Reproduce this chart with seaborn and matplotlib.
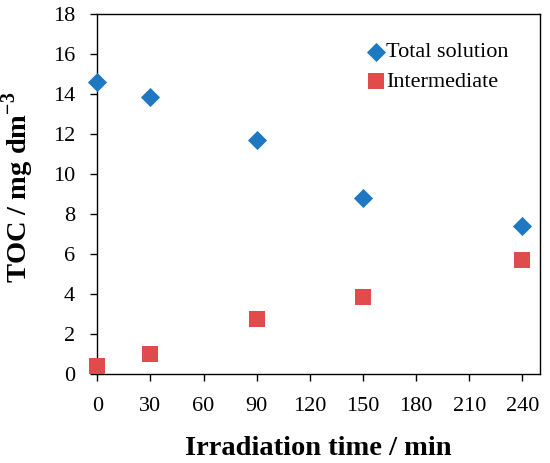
import matplotlib
matplotlib.use("Agg")
import matplotlib.pyplot as plt
import seaborn as sns
import pandas as pd

time_min = [0, 30, 90, 150, 240]
total_solution = [14.62, 13.84, 11.69, 8.81, 7.41]
intermediate = [0.42, 1.02, 2.75, 3.85, 5.71]
xticks = [0, 30, 60, 90, 120, 150, 180, 210, 240]
yticks = [0, 2, 4, 6, 8, 10, 12, 14, 16, 18]

sns.set_theme(style="ticks")
plt.rcParams['font.family'] = ['Liberation Serif', 'DejaVu Serif']
plt.rcParams['mathtext.fontset'] = 'custom'
plt.rcParams['mathtext.rm'] = 'Liberation Serif'
plt.rcParams['mathtext.bf'] = 'Liberation Serif:bold'
plt.rcParams['text.color'] = 'black'
plt.rcParams['axes.labelcolor'] = 'black'

df_t = pd.DataFrame({"time": time_min, "toc": total_solution})
df_i = pd.DataFrame({"time": time_min, "toc": intermediate})

fig = plt.figure(figsize=(5.5, 4.63), dpi=100)
ax = fig.add_axes([0.177, 0.1916, 0.805, 0.7784])

sns.scatterplot(data=df_t, x="time", y="toc", marker="D", s=95, color="#1E78C2",
                linewidth=0, ax=ax, label="Total solution", clip_on=False, zorder=3)
sns.scatterplot(data=df_i, x="time", y="toc", marker="s", s=125, color="#E04B4B",
                linewidth=0, ax=ax, label="Intermediate", clip_on=False, zorder=3)

ax.set_xlim(0, 250)
ax.set_ylim(0, 18)
ax.set_xticks(xticks)
ax.set_yticks(yticks)
ax.tick_params(axis='both', direction='out', length=5, width=1, labelsize=16,
               colors='black', pad=11)
for sp in ax.spines.values():
    sp.set_visible(True)
    sp.set_color('black')
    sp.set_linewidth(1)

ax.set_xlabel("Irradiation time / min", fontsize=20.5, fontweight='bold', color='black')
ax.set_ylabel(r"TOC / mg dm$^{\mathbf{-3}}$", fontsize=20.5, fontweight='bold', color='black')
ax.xaxis.set_label_coords(0.5, -0.171)
ax.yaxis.set_label_coords(-0.138, 0.52)

leg = ax.legend(loc='upper right', bbox_to_anchor=(0.949, 0.947), frameon=False,
                fontsize=16, handletextpad=0.15, labelspacing=0.4,
                handlelength=0.6, borderaxespad=0)
for t in leg.get_texts():
    t.set_color('black')

fig.savefig("out.png", dpi=100)
